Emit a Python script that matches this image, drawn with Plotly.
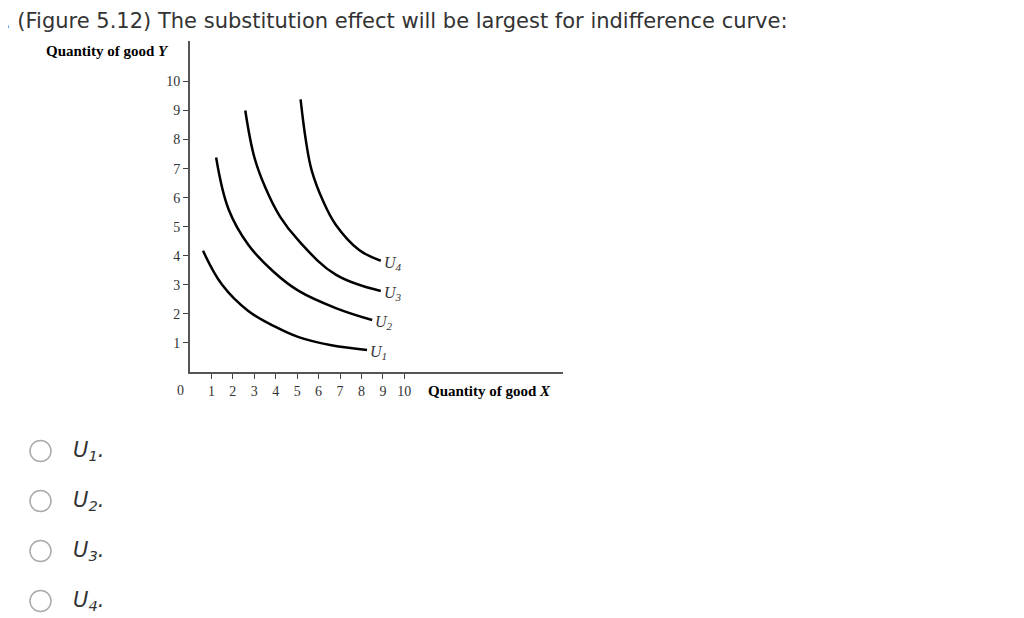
import plotly.graph_objects as go

# indifference curves (good X, good Y)
u1_x = [0.61, 1.5, 2.72, 4.0, 5.07, 6.6, 8.26]
u1_y = [4.17, 3.0, 2.1, 1.55, 1.2, 0.92, 0.76]
u2_x = [1.22, 1.8, 2.72, 3.9, 5.07, 6.8, 8.5]
u2_y = [7.38, 5.6, 4.38, 3.45, 2.79, 2.2, 1.79]
u3_x = [2.58, 3.0, 3.52, 4.2, 5.07, 6.8, 8.9]
u3_y = [9.0, 7.4, 6.34, 5.35, 4.52, 3.35, 2.79]
u4_x = [5.16, 5.4, 5.68, 6.2, 6.8, 7.89, 8.9]
u4_y = [9.38, 8.0, 6.93, 5.9, 5.07, 4.2, 3.83]
curve_names = ["U<sub>1</sub>", "U<sub>2</sub>", "U<sub>3</sub>", "U<sub>4</sub>"]
options = ["U<sub>1</sub>.", "U<sub>2</sub>.", "U<sub>3</sub>.", "U<sub>4</sub>."]

fig = go.Figure()
serif = "Liberation Serif"

for xs, ys, name in zip([u1_x, u2_x, u3_x, u4_x], [u1_y, u2_y, u3_y, u4_y], curve_names):
    fig.add_trace(go.Scatter(x=xs, y=ys, mode="lines",
                             line=dict(color="black", width=2.5, shape="spline", smoothing=1.1),
                             hoverinfo="skip"))
    fig.add_annotation(x=xs[-1], y=ys[-1], text="<i>" + name + "</i>", showarrow=False,
                       xanchor="left", yanchor="middle", xshift=1, yshift=-3,
                       font=dict(family=serif, size=16, color="#333"))

axis_style = dict(ticks="outside", ticklen=5, showline=True, linecolor="#555", linewidth=2,
                  showgrid=False, zeroline=False,
                  tickfont=dict(family=serif, size=14, color="#333"))
fig.update_xaxes(range=[0, 17.4], domain=[0.1777, 0.542], tickvals=list(range(1, 11)), **axis_style)
fig.update_yaxes(range=[0, 11.4], domain=[0.411, 0.947], tickvals=list(range(1, 11)), **axis_style)

fig.add_annotation(x=172 / 1024, y=1 - 382 / 618, xref="paper", yref="paper", text="0",
                   showarrow=False, xanchor="center", yanchor="middle",
                   font=dict(family=serif, size=14, color="#333"))
fig.add_annotation(x=418 / 1024, y=1 - 383 / 618, xref="paper", yref="paper",
                   text="<b>Quantity of good <i>X</i></b>", showarrow=False,
                   xanchor="left", yanchor="middle",
                   font=dict(family=serif, size=15, color="black"))
fig.add_annotation(x=36 / 1024, y=1 - 43 / 618, xref="paper", yref="paper",
                   text="<b>Quantity of good <i>Y</i></b>", showarrow=False,
                   xanchor="left", yanchor="middle",
                   font=dict(family=serif, size=15, color="black"))

fig.add_annotation(x=0, y=1 - 13 / 618, xref="paper", yref="paper",
                   text=". (Figure 5.12) The substitution effect will be largest for indifference curve:",
                   showarrow=False, xanchor="left", yanchor="middle", xshift=-6,
                   font=dict(family="DejaVu Sans", size=21, color="#333"))

for i, opt in enumerate(options):
    yc = 443 + 50 * i
    fig.add_shape(type="circle", xref="paper", yref="paper",
                  x0=22 / 1024, x1=43 / 1024, y0=1 - (yc + 10.5) / 618, y1=1 - (yc - 10.5) / 618,
                  line=dict(color="#aaa", width=1.5), fillcolor="white")
    fig.add_annotation(x=63 / 1024, y=1 - yc / 618, xref="paper", yref="paper",
                       text="<i>" + opt + "</i>", showarrow=False,
                       xanchor="left", yanchor="middle",
                       font=dict(family="DejaVu Sans", size=21, color="#333"))

fig.update_layout(width=1024, height=618, margin=dict(l=0, r=0, t=0, b=0),
                  plot_bgcolor="white", paper_bgcolor="white", showlegend=False)
fig.write_html("out.html")
